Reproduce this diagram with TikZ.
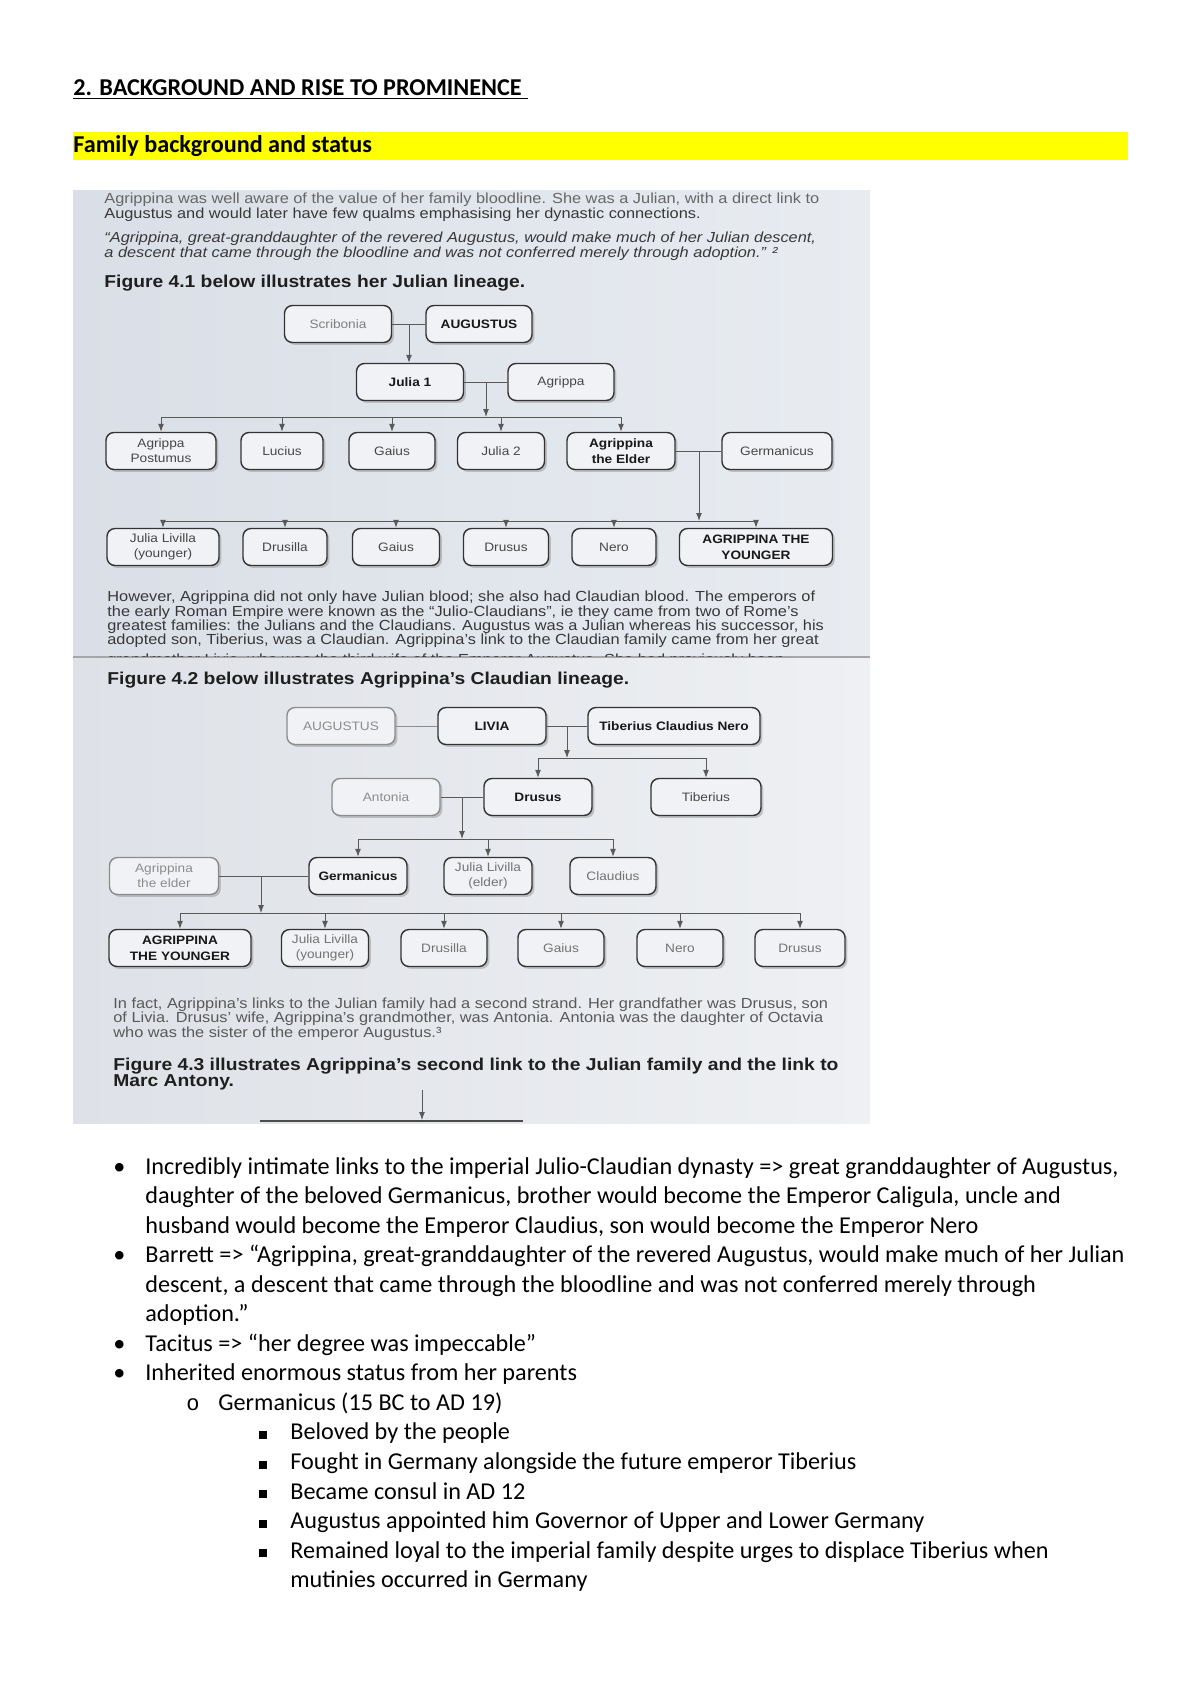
\documentclass[tikz,border=0pt]{standalone}
\usepackage{fontspec}
\setmainfont{Carlito}
\newfontfamily\photofont[FakeStretch=1.12]{Liberation Sans}
\newfontfamily\markfont{Liberation Mono}
\usetikzlibrary{arrows.meta,shadows}
\definecolor{hilite}{RGB}{255,255,0}
\definecolor{photoleft}{RGB}{218,223,231}
\definecolor{photoright}{RGB}{232,236,241}
\definecolor{photoleftb}{RGB}{222,225,231}
\definecolor{photorightb}{RGB}{238,240,243}
\definecolor{boxfill}{RGB}{240,242,245}

\tikzset{
  person/.style={draw=black!80, line width=0.7pt, rounded corners=4pt, fill=boxfill,
    drop shadow={shadow xshift=1.2pt, shadow yshift=-1.2pt, opacity=.4},
    font=\photofont\fontsize{6.1}{7.6}\selectfont, text=black!72, align=center,
    inner sep=1pt, minimum height=18.5pt},
  lead/.style={person, font=\photofont\bfseries\fontsize{6.1}{7.8}\selectfont, text=black!90},
  faded/.style={person, draw=black!45, text=black!45},
  link/.style={draw=black!65, line width=0.5pt},
  down/.style={link, -{Latex[length=4pt,width=3pt]}},
  ptext/.style={anchor=base west, inner sep=0pt, font=\photofont\fontsize{7.3}{9}\selectfont, text=black!78},
  pfig/.style={ptext, font=\photofont\bfseries\fontsize{8.6}{10}\selectfont, text=black!88},
  body/.style={anchor=base west, inner sep=0pt, font=\fontsize{12.1}{14}\selectfont},
}

\begin{document}
\begin{tikzpicture}[x=0.5pt,y=-0.5pt]
\useasboundingbox (0,0) rectangle (1200,1698);
\fill[white] (0,0) rectangle (1200,1698);

% page heading
\node[body, font=\bfseries\fontsize{12.1}{14}\selectfont] (head) at (73,95) {2. BACKGROUND AND RISE TO PROMINENCE};
\draw[line width=0.6pt] ([yshift=-1.6pt]head.base west) -- ([yshift=-1.6pt,xshift=3pt]head.base east);
\fill[hilite] (73,132) rectangle (1128,160);
\node[body, font=\bfseries\fontsize{12.1}{14}\selectfont] (fam) at (73,152) {Family background and status};

% the two photographed pages
\shade[left color=photoleft, right color=photoright] (73,190) rectangle (870,657);
\shade[left color=photoleftb, right color=photorightb] (73,657) rectangle (870,1123);
\draw[black!35, line width=0.8pt] (73,657) -- (870,657);

\node[ptext, text=black!60] (p1) at (104,203) {Agrippina was well aware of the value of her family bloodline. She was a Julian, with a direct link to};
\node[ptext] (p2) at (104,218) {Augustus and would later have few qualms emphasising her dynastic connections.};
\node[ptext, font=\photofont\itshape\fontsize{7.3}{9}\selectfont] (p3) at (104,242) {“Agrippina, great-granddaughter of the revered Augustus, would make much of her Julian descent,};
\node[ptext, font=\photofont\itshape\fontsize{7.3}{9}\selectfont] (p4) at (104,257) {a descent that came through the bloodline and was not conferred merely through adoption.” ²};
\node[pfig] (fig1) at (104,287) {Figure 4.1 below illustrates her Julian lineage.};

% Figure 4.1
\node[person, text=black!50, minimum width=53.5pt] (scrib) at (338,324) {Scribonia};
\node[lead, minimum width=53pt] (augA) at (479,324) {AUGUSTUS};
\node[lead, minimum width=53.5pt] (julia1) at (410,382) {Julia 1};
\node[person, minimum width=53pt] (agrippa) at (561,382) {Agrippa};
\node[person, minimum width=55pt] (agpost) at (161,451) {Agrippa\\Postumus};
\node[person, minimum width=41pt] (lucius) at (282,451) {Lucius};
\node[person, minimum width=43pt] (gaius1) at (392,451) {Gaius};
\node[person, minimum width=43.5pt] (julia2) at (501,451) {Julia 2};
\node[lead, minimum width=54pt] (agelder) at (621,451) {Agrippina\\the Elder};
\node[person, minimum width=55pt] (germ1) at (777,451) {Germanicus};
\node[person, minimum width=56pt] (jlyoung1) at (163,547) {Julia Livilla\\(younger)};
\node[person, minimum width=42pt] (drusilla1) at (285,547) {Drusilla};
\node[person, minimum width=43.5pt] (gaius2) at (396,547) {Gaius};
\node[person, minimum width=42.5pt] (drusus1) at (506,547) {Drusus};
\node[person, minimum width=42pt] (nero1) at (614,547) {Nero};
\node[lead, minimum width=76.5pt] (agyoung1) at (756,547) {AGRIPPINA THE\\YOUNGER};

\coordinate (j0) at (409,324);
\coordinate (j1) at (486,382);
\coordinate (bus1) at (486,417);
\coordinate (j2) at (699,451);
\coordinate (bus2) at (699,521);
\draw[link] (scrib) -- (augA);
\draw[down] (j0) -- (j0 |- julia1.north);
\draw[link] (julia1) -- (agrippa);
\draw[down] (j1) -- (bus1);
\draw[link] (agpost |- bus1) -- (agelder |- bus1);
\foreach \n in {agpost,lucius,gaius1,julia2,agelder}
  \draw[down] (\n |- bus1) -- (\n.north);
\draw[link] (agelder) -- (germ1);
\draw[down] (j2) -- (bus2);
\draw[link] (jlyoung1 |- bus2) -- (agyoung1 |- bus2);
\foreach \n in {jlyoung1,drusilla1,gaius2,drusus1,nero1,agyoung1}
  \draw[down] (\n |- bus2) -- (\n.north);

\node[ptext] (p5) at (107,601) {However, Agrippina did not only have Julian blood; she also had Claudian blood. The emperors of};
\node[ptext] (p6) at (107,616) {the early Roman Empire were known as the “Julio-Claudians”, ie they came from two of Rome’s};
\node[ptext] (p7) at (107,630) {greatest families: the Julians and the Claudians. Augustus was a Julian whereas his successor, his};
\node[ptext] (p8) at (107,644) {adopted son, Tiberius, was a Claudian. Agrippina’s link to the Claudian family came from her great};
\begin{scope}
  \clip (73,190) rectangle (870,656);
  \node[ptext] (p9) at (107,664) {grandmother Livia, who was the third wife of the Emperor Augustus. She had previously been};
\end{scope}

\node[pfig] (fig2) at (107,684) {Figure 4.2 below illustrates Agrippina’s Claudian lineage.};

% Figure 4.2
\node[faded, minimum width=54pt] (augB) at (341,726) {AUGUSTUS};
\node[lead, minimum width=54pt] (livia) at (492,726) {LIVIA};
\node[lead, minimum width=86pt] (tcn) at (674,726) {Tiberius Claudius Nero};
\node[faded, minimum width=54pt] (antonia) at (386,797) {Antonia};
\node[lead, minimum width=54pt] (drusus2) at (538,797) {Drusus};
\node[person, minimum width=55pt] (tiberius) at (706,797) {Tiberius};
\node[faded, minimum width=54.5pt] (agelder2) at (164,876) {Agrippina\\the elder};
\node[lead, minimum width=49pt] (germ2) at (358,876) {Germanicus};
\node[person, text=black!55, minimum width=44pt] (jlelder) at (488,876) {Julia Livilla\\(elder)};
\node[person, text=black!55, minimum width=43pt] (claudius) at (613,876) {Claudius};
\node[lead, minimum width=71pt] (agyoung2) at (180,948) {AGRIPPINA\\THE YOUNGER};
\node[person, text=black!55, minimum width=43.5pt] (jlyoung2) at (325,948) {Julia Livilla\\(younger)};
\node[person, text=black!55, minimum width=43pt] (drusilla2) at (444,948) {Drusilla};
\node[person, text=black!55, minimum width=43pt] (gaius3) at (561,948) {Gaius};
\node[person, text=black!55, minimum width=43pt] (nero2) at (680,948) {Nero};
\node[person, text=black!55, minimum width=45pt] (drusus3) at (800,948) {Drusus};

\coordinate (j3) at (567,726);
\coordinate (bus3) at (567,758);
\coordinate (j4) at (462,797);
\coordinate (bus4) at (462,839);
\coordinate (j5) at (261,876);
\coordinate (bus5) at (261,913);
\draw[link, draw=black!45] (augB) -- (livia);
\draw[link] (livia) -- (tcn);
\draw[down] (j3) -- (bus3);
\draw[link] (drusus2 |- bus3) -- (tiberius |- bus3);
\foreach \n in {drusus2,tiberius}
  \draw[down] (\n |- bus3) -- (\n.north);
\draw[link] (antonia) -- (drusus2);
\draw[down] (j4) -- (bus4);
\draw[link] (germ2 |- bus4) -- (claudius |- bus4);
\foreach \n in {germ2,jlelder,claudius}
  \draw[down] (\n |- bus4) -- (\n.north);
\draw[link] (agelder2) -- (germ2);
\draw[down] (j5) -- (bus5);
\draw[link] (agyoung2 |- bus5) -- (drusus3 |- bus5);
\foreach \n in {agyoung2,jlyoung2,drusilla2,gaius3,nero2,drusus3}
  \draw[down] (\n |- bus5) -- (\n.north);

\node[ptext, text=black!65] (p10) at (113,1008) {In fact, Agrippina’s links to the Julian family had a second strand. Her grandfather was Drusus, son};
\node[ptext, text=black!65] (p11) at (113,1022) {of Livia. Drusus’ wife, Agrippina’s grandmother, was Antonia. Antonia was the daughter of Octavia};
\node[ptext, text=black!65] (p12) at (113,1037) {who was the sister of the emperor Augustus.³};
\node[pfig] (fig3) at (113,1070) {Figure 4.3 illustrates Agrippina’s second link to the Julian family and the link to};
\node[pfig] (fig3b) at (113,1086) {Marc Antony.};
\coordinate (top3) at (422,1090);
\coordinate (box3) at (422,1120);
\draw[down] (top3) -- (box3);
\draw[black!70, line width=0.8pt] (260,1121) -- (523,1121);

% notes below the photos
\foreach \i/\x/\t in {0/145/{Incredibly intimate links to the imperial Julio-Claudian dynasty => great granddaughter of Augustus,},
  1/145/{daughter of the beloved Germanicus, brother would become the Emperor Caligula, uncle and},
  2/145/{husband would become the Emperor Claudius, son would become the Emperor Nero},
  3/145/{Barrett => “Agrippina, great-granddaughter of the revered Augustus, would make much of her Julian},
  4/145/{descent, a descent that came through the bloodline and was not conferred merely through},
  5/145/{adoption.”},
  6/145/{Tacitus => “her degree was impeccable”},
  7/145/{Inherited enormous status from her parents},
  8/218/{Germanicus (15 BC to AD 19)},
  9/290/{Beloved by the people},
  10/290/{Fought in Germany alongside the future emperor Tiberius},
  11/290/{Became consul in AD 12},
  12/290/{Augustus appointed him Governor of Upper and Lower Germany},
  13/290/{Remained loyal to the imperial family despite urges to displace Tiberius when},
  14/290/{mutinies occurred in Germany}}
  \node[body] (b\i) at (\x,1174+29.55*\i) {\t};
\foreach \i in {0,3,6,7}
  \node[body] (dot\i) at (113,1174+29.55*\i) {•};
\node[body, font=\markfont\fontsize{11}{13}\selectfont] (ring8) at (186,1174+29.55*8) {o};
\foreach \i in {9,...,13}
  \fill (259,1165+29.55*\i) rectangle +(8,8);
\end{tikzpicture}
\end{document}
